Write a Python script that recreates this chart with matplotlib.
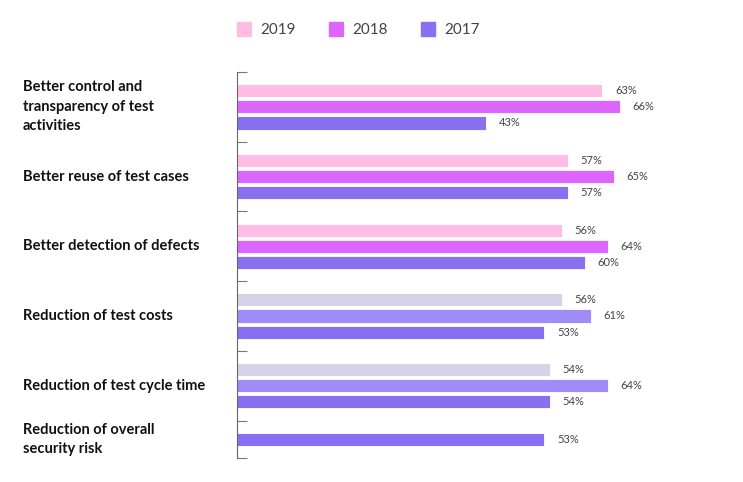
import numpy as np
import matplotlib
matplotlib.use("Agg")
import matplotlib.pyplot as plt
import matplotlib.transforms as mtrans
from matplotlib.lines import Line2D

categories = [
    "Better control and\ntransparency of test\nactivities",
    "Better reuse of test cases",
    "Better detection of defects",
    "Reduction of test costs",
    "Reduction of test cycle time",
    "Reduction of overall\nsecurity risk",
]
years = ["2019", "2018", "2017"]
v2019 = [63, 57, 56, 56, 54, None]
v2018 = [66, 65, 64, 61, 64, None]
v2017 = [43, 57, 60, 53, 54, 53]

# colours change after the third group
pal_a = ["#FFBDE6", "#DD66FF", "#8870F0"]
pal_b = ["#D6D2E8", "#A08CF8", "#8870F0"]
legend_cols = pal_a

plt.rcParams['font.family'] = ['Lato', 'DejaVu Sans']

fig = plt.figure(figsize=(7.43, 4.82), dpi=100)
ax = fig.add_axes([237/743, 1-458/482, 406/743, 386/482])

slot = 1.0
bar_h = 0.82
gap = 1.32

series = [v2019, v2018, v2017]
y = 0.0
tick_pos = [0.0]
centers = []
for i in range(len(categories)):
    vals = [(j, s[i]) for j, s in enumerate(series) if s[i] is not None]
    n = len(vals)
    region = n*slot + gap
    c = y + region/2
    centers.append(c)
    pal = pal_a if i < 3 else pal_b
    for k, (j, v) in enumerate(vals):
        yy = c + (k - (n-1)/2)*slot
        ax.barh(yy, v, height=bar_h, color=pal[j], edgecolor='white', linewidth=0.6)
        ax.annotate(f"{v}%", (v, yy), xytext=(9, 0), textcoords='offset points',
                    va='center', ha='left', fontsize=8, color='#444444')
    y += region
    tick_pos.append(y)

ax.set_xlim(0, 70)
ax.set_ylim(y, 0)
ax.set_yticks(tick_pos)
ax.set_yticklabels([])
ax.tick_params(axis='y', direction='in', length=7, color='#777777', width=0.8)
ax.set_xticks([])
for s in ['top', 'right', 'bottom']:
    ax.spines[s].set_visible(False)
ax.spines['left'].set_color('#666666')
ax.spines['left'].set_linewidth(0.8)

lab_tr = mtrans.blended_transform_factory(fig.transFigure, ax.transData)
for c, lab in zip(centers, categories):
    ax.text(23/743, c, lab, transform=lab_tr, ha='left', va='center',
            fontsize=10.5, fontweight='bold', color='#111111', linespacing=1.5)

handles = [Line2D([0], [0], marker='s', linestyle='', markersize=10,
                  markerfacecolor=col, markeredgecolor=col) for col in legend_cols]
fig.legend(handles, years, loc='center', bbox_to_anchor=(358/743, 1-30/482), ncol=3,
           frameon=False, fontsize=11, labelcolor='#444444', columnspacing=2.1,
           handletextpad=0.6, handlelength=1.0)

plt.savefig("out.png", dpi=100)
